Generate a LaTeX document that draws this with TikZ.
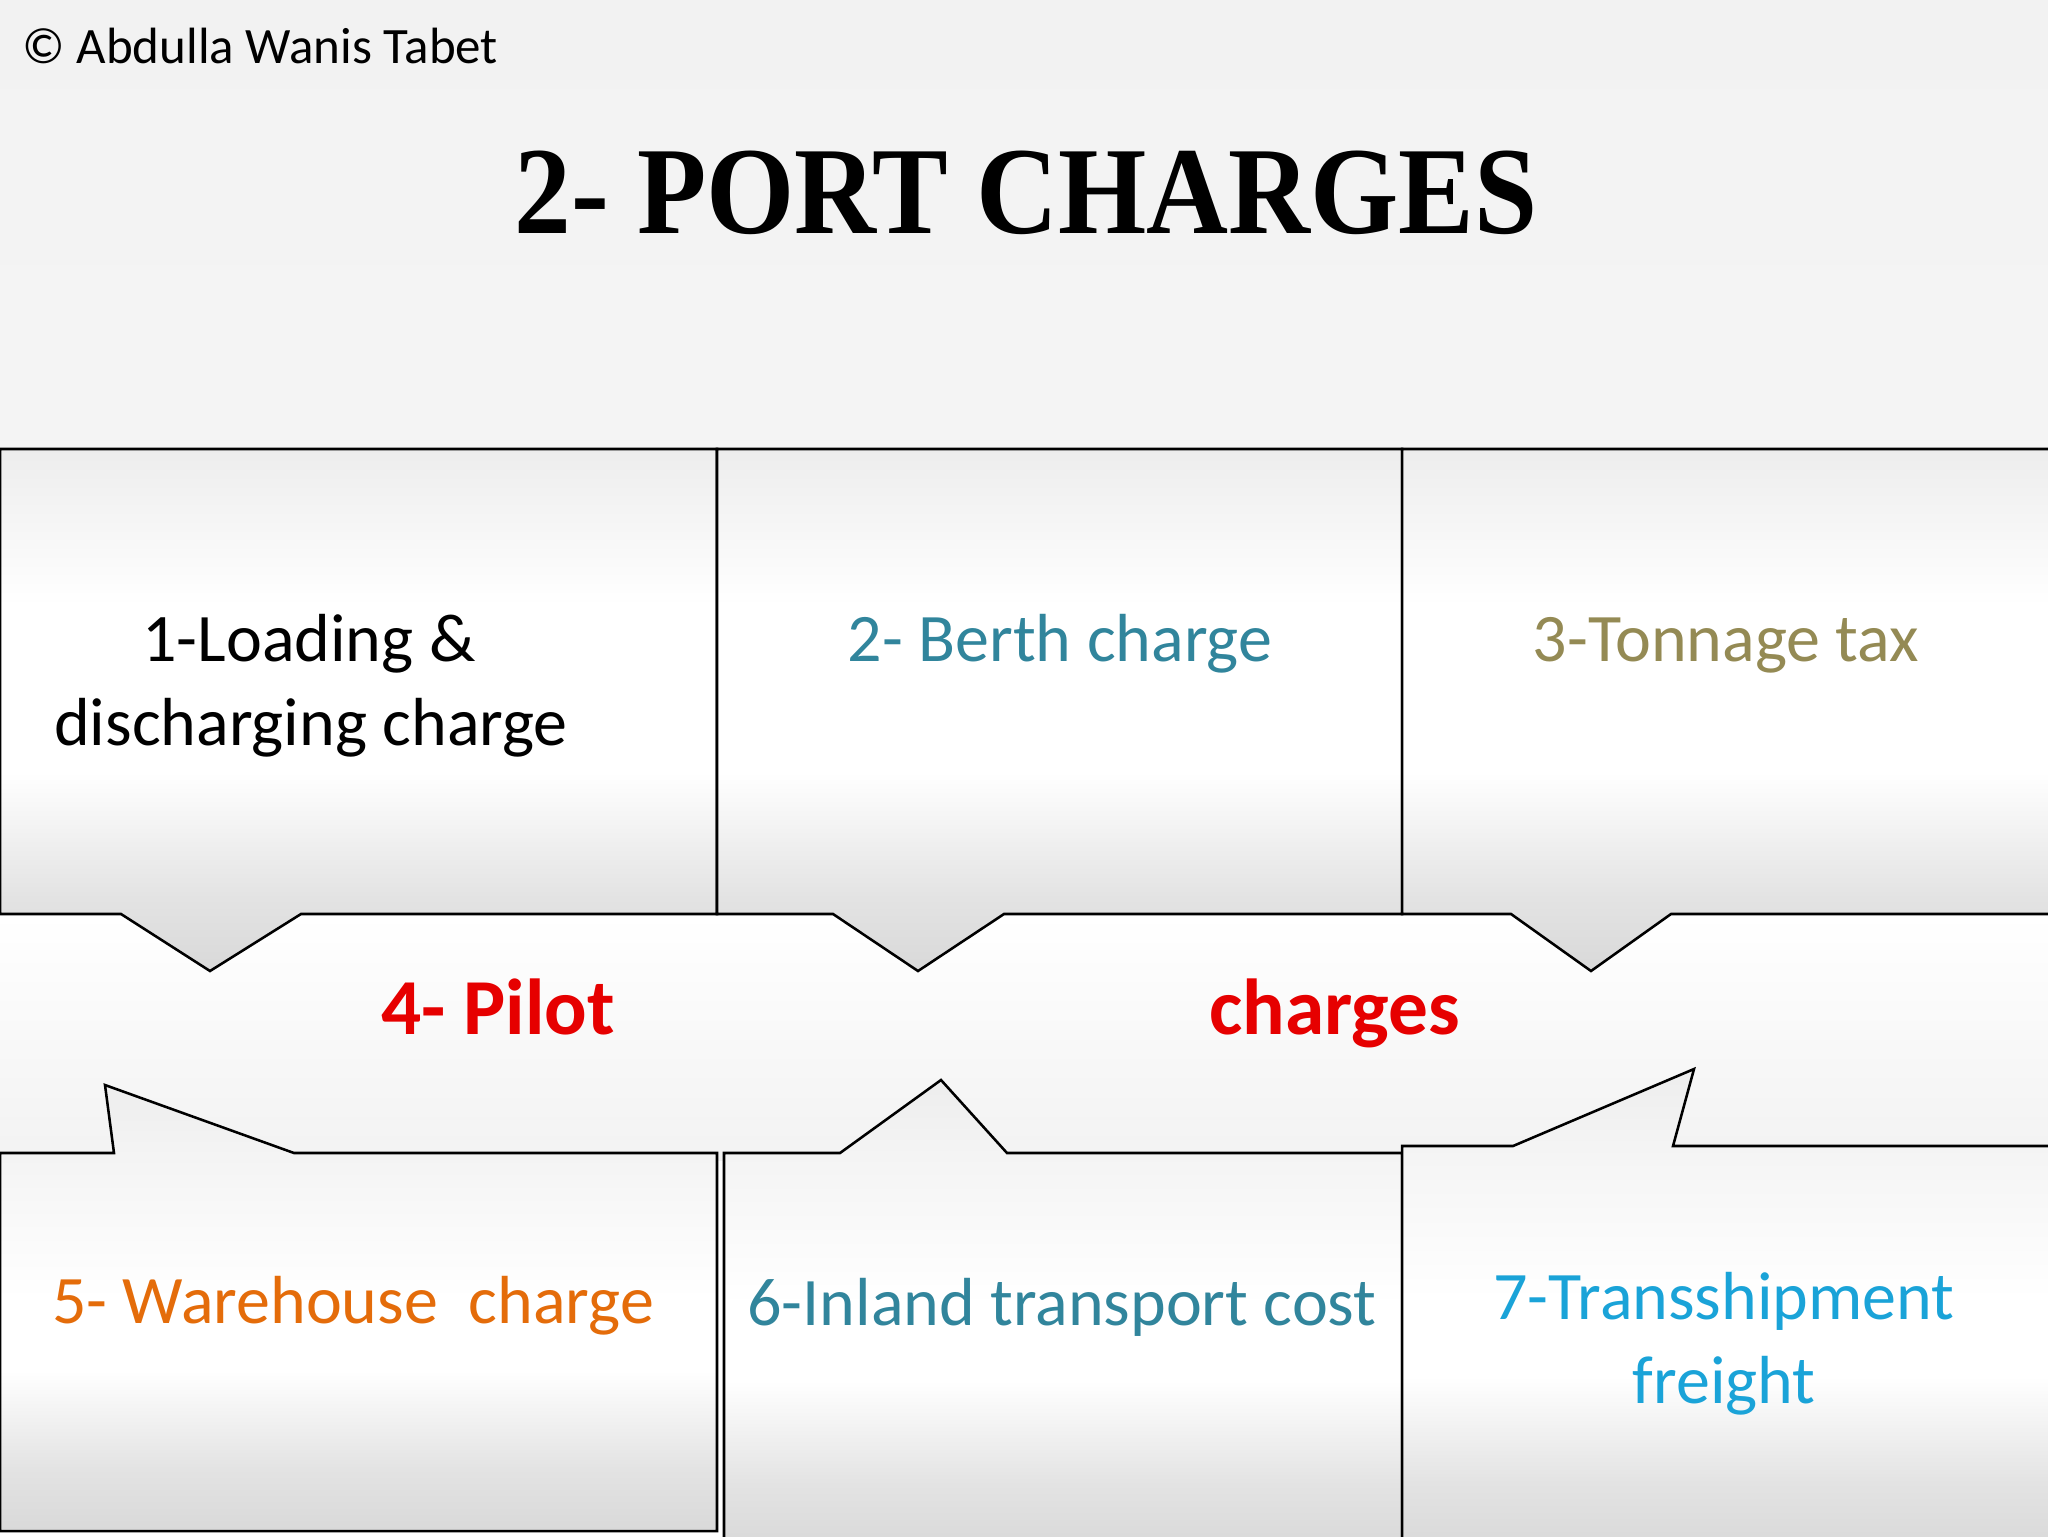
\documentclass[tikz,border=0pt]{standalone}
\usepackage{fontspec}
\setmainfont{Carlito}
\newfontfamily\titlefont{Liberation Serif}
\definecolor{bgcol}{HTML}{F2F2F2}
\definecolor{tealtxt}{HTML}{31859C}
\definecolor{olivetxt}{HTML}{948A54}
\definecolor{orangetxt}{HTML}{E46C0A}
\definecolor{bluetxt}{HTML}{1AA3D8}
\definecolor{redtxt}{HTML}{E60000}
\pgfdeclareverticalshading{uppershade}{100bp}{%
  color(0bp)=(black!15); color(25bp)=(black!15); color(32bp)=(black!11);
  color(44bp)=(white); color(60bp)=(white); color(75bp)=(black!7); color(100bp)=(black!7)}
\pgfdeclareverticalshading{lowershade}{100bp}{%
  color(0bp)=(black!15); color(25bp)=(black!15); color(32bp)=(black!11);
  color(43bp)=(white); color(51bp)=(white); color(66bp)=(black!4); color(75bp)=(black!7); color(100bp)=(black!7)}
\begin{document}
\begin{tikzpicture}[x=0.012402344cm,y=-0.012402344cm,
  box/.style={draw=black, line width=0.9pt, line join=miter},
  upperbox/.style={box, shading=uppershade},
  lowerbox/.style={box, shading=lowershade},
  lbl/.style={font=\fontsize{24}{29}\selectfont, anchor=base, inner sep=0pt},
  redlbl/.style={font=\bfseries\fontsize{28}{34}\selectfont, anchor=base, inner sep=0pt, text=redtxt}]
\useasboundingbox (0,0) rectangle (2048,1536);
\clip (0,0) rectangle (2048,1536);
% background
\fill[top color=bgcol, bottom color=bgcol!60!white] (0,0) rectangle (2048,914);
% middle band
\fill[top color=white, bottom color=black!5] (0,914) rectangle (2048,1160);

% upper callout boxes
\path[upperbox] (0,449) -- (717,449) -- (717,914) -- (301,914) -- (210,971) -- (121,914) -- (0,914) -- cycle;
\path[upperbox] (717,449) -- (1402,449) -- (1402,914) -- (1004,914) -- (918,971) -- (833,914) -- (717,914) -- cycle;
\path[upperbox] (1402,449) -- (2070,449) -- (2070,914) -- (1671,914) -- (1591,971) -- (1511,914) -- (1402,914) -- cycle;

% lower callout boxes
\path[lowerbox] (0,1153) -- (114,1153) -- (105,1085) -- (294,1153) -- (717,1153) -- (717,1531) -- (0,1531) -- cycle;
\path[lowerbox] (724,1153) -- (840,1153) -- (941,1080) -- (1007,1153) -- (1402,1153) -- (1402,1550) -- (724,1550) -- cycle;
\path[lowerbox] (1402,1146) -- (1513,1146) -- (1694,1069) -- (1673,1146) -- (2070,1146) -- (2070,1550) -- (1402,1550) -- cycle;

% texts
\node[font=\fontsize{18}{22}\selectfont, anchor=base west, inner sep=0pt] (copy) at (22,64) {© Abdulla Wanis Tabet};
\node[font=\titlefont\bfseries\fontsize{44}{50}\selectfont, anchor=base, inner sep=0pt] (title) at (1026,233) {\scalebox{0.91}[1]{2- PORT CHARGES}};

\node[lbl] (t1a) at (309,661) {1-Loading \&};
\node[lbl] (t1b) at (311,745) {discharging charge};
\node[lbl, text=tealtxt] (t2) at (1060,661) {2- Berth charge};
\node[lbl, text=olivetxt] (t3) at (1726,661) {3-Tonnage tax};
\node[redlbl] (t4a) at (498,1034) {4- Pilot};
\node[redlbl] (t4b) at (1335,1034) {charges};
\node[lbl, text=orangetxt] (t5) at (353,1323) {5- Warehouse\ \ charge};
\node[lbl, text=tealtxt] (t6) at (1062,1325) {6-Inland transport cost};
\node[lbl, text=bluetxt] (t7a) at (1724,1319) {7-Transshipment};
\node[lbl, text=bluetxt] (t7b) at (1724,1403) {freight};
\end{tikzpicture}
\end{document}
